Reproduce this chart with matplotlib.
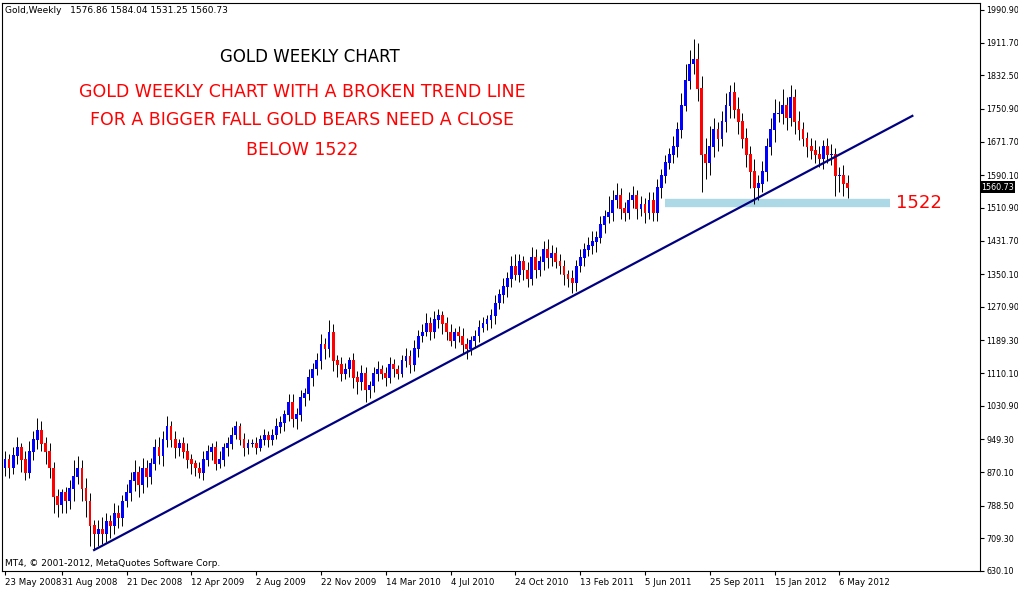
import matplotlib
matplotlib.use("Agg")
import matplotlib.pyplot as plt
import numpy as np
import pandas as pd

closes = [900,880,910,930,900,870,920,950,970,940,920,
          880,810,790,820,800,830,
          860,880,830,800,740,720,
          730,720,750,740,770,760,800,820,
          850,870,840,880,860,890,930,910,950,980,
          950,930,940,920,900,890,880,870,900,920,
          930,890,900,930,940,960,980,950,930,940,
          940,930,950,960,950,960,980,990,1010,1040,
          1000,1010,1050,1060,1100,1120,1140,1180,1170,1210,
          1140,1130,1110,1120,1140,1100,1090,1110,1070,1080,
          1110,1120,1110,1100,1130,1120,1110,1140,1150,1130,
          1170,1200,1210,1230,1210,1240,1250,1230,1210,1190,
          1210,1200,1180,1170,1190,1200,1220,1230,1240,1250,
          1280,1300,1320,1340,1370,1350,1380,1360,1340,1390,
          1360,1380,1410,1390,1400,1380,1370,1350,1340,1330,
          1370,1390,1410,1420,1430,1440,1470,1490,1500,1530,
          1540,1510,1500,1530,1540,1510,1520,1500,1530,1500,
          1560,1590,1620,1640,1660,1700,1760,1820,1860,1870,
          1800,1640,1620,1660,1700,1680,1720,1760,1790,1750,
          1720,1680,1640,1600,1560,1570,1600,1660,1700,1740,
          1740,1760,1730,1780,1720,1700,1680,1660,1650,1640,
          1630,1660,1640,1640,1590,1590,1570,1560.73]
first_open = 880
wick_up = [20,15,20,25,10,20,25,20,30,25,15,
           20,15,20,10,15,20,
           40,30,20,25,20,15,
           25,30,20,15,25,20,15,20,
           20,30,15,25,20,15,20,25,20,25,
           15,20,10,15,20,15,10,15,20,15,
           10,15,20,10,15,20,15,10,15,10,
           10,15,10,15,10,15,20,15,10,20,
           20,15,20,15,20,15,20,25,15,30,
           20,15,20,15,10,20,15,20,15,10,
           15,20,10,15,20,15,10,15,20,15,
           20,15,20,25,15,20,15,10,15,20,
           10,15,20,15,10,15,20,15,10,15,
           20,15,20,15,25,30,20,15,20,25,
           20,15,20,25,20,15,20,15,10,20,
           15,20,15,20,25,15,20,15,40,25,
           30,20,15,20,25,15,20,15,20,20,
           20,15,20,15,25,20,30,40,35,50,
           40,30,40,50,30,20,25,30,20,25,
           30,20,25,20,30,20,25,20,30,35,
           30,40,20,30,20,25,20,15,20,25,
           20,15,20,25,15,20,25,20]
wick_dn = [20,25,15,20,30,20,15,20,25,20,30,
           25,40,30,20,30,20,
           30,20,30,40,50,40,
           30,25,20,30,20,25,20,15,
           20,25,30,20,25,20,15,20,25,20,
           20,25,20,15,20,25,20,15,20,15,
           20,15,10,15,20,15,10,15,20,15,
           10,15,10,15,20,15,10,15,20,15,
           20,25,15,20,15,20,15,20,25,20,
           25,30,20,15,20,25,30,20,30,20,
           15,20,15,20,15,20,15,10,15,20,
           15,20,15,10,20,15,20,25,20,15,
           20,15,20,25,15,20,15,10,15,20,
           20,15,20,25,20,15,20,25,20,15,
           20,15,20,25,20,15,20,25,20,25,
           20,15,20,15,20,25,15,20,15,20,
           20,25,20,15,20,25,20,25,15,20,
           20,25,20,15,20,25,20,15,20,25,
           30,90,40,30,25,30,20,25,30,20,
           30,25,30,40,40,30,20,25,20,30,
           20,25,30,20,30,25,20,25,20,20,
           20,25,20,25,50,40,30,25]
tick_dates = ["2008-05-23","2008-08-31","2008-12-21","2009-04-12","2009-08-02",
              "2009-11-22","2010-03-14","2010-07-04","2010-10-24","2011-02-13",
              "2011-06-05","2011-09-25","2012-01-15","2012-05-06"]
price_ticks = [630.10,709.30,788.50,870.10,949.30,1030.90,1110.10,1189.30,1270.90,
               1350.10,1431.70,1510.90,1590.10,1671.70,1750.90,1832.50,1911.70,1990.90]
trend_idx = [22, 224]
trend_price = [681, 1734]
support_level = 1522
support_idx = [163, 218.5]

closes = np.array(closes, float)
opens = np.concatenate([[first_open], closes[:-1]])
highs = np.maximum(opens, closes) + np.array(wick_up)
lows = np.minimum(opens, closes) - np.array(wick_dn)
n = len(closes)
idx = np.arange(n)
dates = pd.date_range("2008-05-23", periods=n, freq="7D")

fig = plt.figure(figsize=(10.18, 5.92), dpi=100)
ax = fig.add_axes([2/1018, 21/592, 978/1018, 568/592])
up = closes >= opens
col = np.where(up, "#0000FF", "#FF0000")
ax.vlines(idx, lows, highs, colors="black", lw=0.7, zorder=2)
ax.bar(idx, np.abs(closes-opens)+2, bottom=np.minimum(opens, closes)-1,
       width=0.7, color=col, zorder=3, lw=0)

ax.plot(trend_idx, trend_price, color="#000080", lw=1.6, zorder=4)
ax.plot(support_idx, [support_level]*2, color="#add8e6", lw=6, zorder=1, solid_capstyle="butt")
ax.text(220, support_level, "1522", color="red", fontsize=13, va="center", ha="left")

ax.set_xlim(-0.74, 240.7)
ax.set_ylim(630.1, 2007.8)
ax.yaxis.tick_right()
ax.set_yticks(price_ticks)
ax.set_yticklabels([f"{p:.2f}" for p in price_ticks], fontsize=5.8)
tpos = [int(np.argmin(np.abs(dates - pd.Timestamp(d)))) for d in tick_dates]
ax.set_xticks(tpos)
ax.set_xticklabels([pd.Timestamp(d).strftime("%-d %b %Y") for d in tick_dates], fontsize=6.2, ha="left")
ax.tick_params(axis="y", length=3, pad=1.5)
ax.tick_params(axis="x", length=3, pad=2)
for s in ax.spines.values():
    s.set_color("black"); s.set_linewidth(0.8)

ax.text(0.003, 0.995, "Gold,Weekly   1576.86 1584.04 1531.25 1560.73", transform=ax.transAxes,
        fontsize=6.5, va="top")
ax.text(0.003, 0.005, "MT4, © 2001-2012, MetaQuotes Software Corp.", transform=ax.transAxes,
        fontsize=6.5, va="bottom")
fig.text(310/1018, 1-57/592, "GOLD WEEKLY CHART", fontsize=12, ha="center", va="center")
for y, t in [(92, "GOLD WEEKLY CHART WITH A BROKEN TREND LINE"),
             (120, "FOR A BIGGER FALL GOLD BEARS NEED A CLOSE"),
             (150, "BELOW 1522")]:
    fig.text(302/1018, 1-y/592, t, fontsize=12.5, ha="center", va="center", color="red")
ax.text(1.001, 1560.73, "1560.73", transform=ax.get_yaxis_transform(), fontsize=5.8,
        color="white", va="center", ha="left", bbox=dict(fc="black", ec="none", pad=1))
fig.savefig("out.png", dpi=100)
